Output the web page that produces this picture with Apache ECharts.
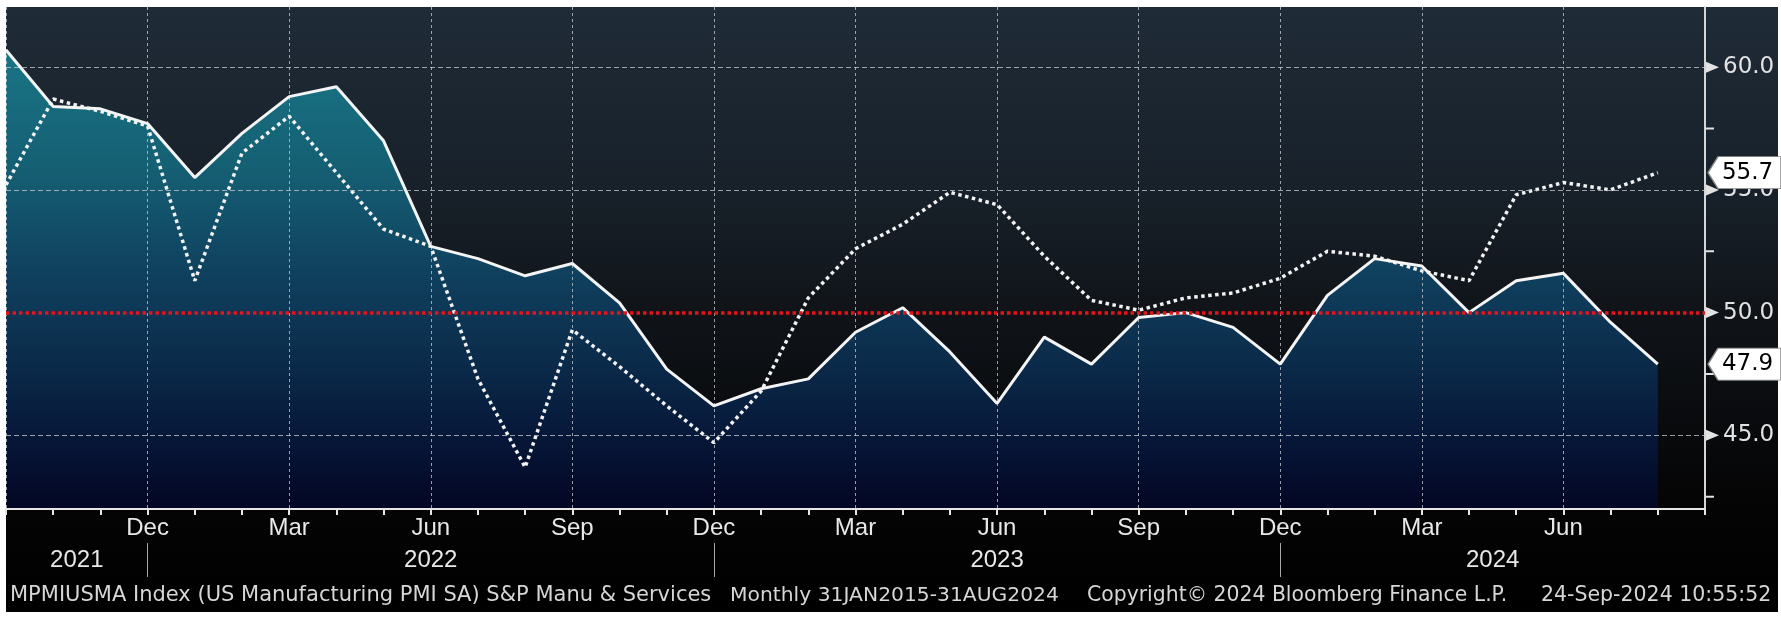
<!DOCTYPE html>
<html>
<head>
<meta charset="utf-8">
<script src="https://cdn.jsdelivr.net/npm/echarts@6.0.0/dist/echarts.min.js"></script>
<style>
  html, body { margin: 0; padding: 0; background: #fff; }
  #main { width: 1781px; height: 622px; }
</style>
</head>
<body>
<div id="main"></div>
<script>
// months Sep 2021 .. Sep 2024 (last one is empty, axis runs one month past the data)
const months = [
  'Sep 2021', 'Oct 2021', 'Nov 2021', 'Dec 2021',
  'Jan 2022', 'Feb 2022', 'Mar 2022', 'Apr 2022', 'May 2022', 'Jun 2022',
  'Jul 2022', 'Aug 2022', 'Sep 2022', 'Oct 2022', 'Nov 2022', 'Dec 2022',
  'Jan 2023', 'Feb 2023', 'Mar 2023', 'Apr 2023', 'May 2023', 'Jun 2023',
  'Jul 2023', 'Aug 2023', 'Sep 2023', 'Oct 2023', 'Nov 2023', 'Dec 2023',
  'Jan 2024', 'Feb 2024', 'Mar 2024', 'Apr 2024', 'May 2024', 'Jun 2024',
  'Jul 2024', 'Aug 2024', 'Sep 2024'
];

// US Manufacturing PMI SA (solid, filled)
const manufacturing = [
  60.7, 58.4, 58.3, 57.7,
  55.5, 57.3, 58.8, 59.2, 57.0, 52.7, 52.2, 51.5, 52.0, 50.4, 47.7, 46.2,
  46.9, 47.3, 49.2, 50.2, 48.4, 46.3, 49.0, 47.9, 49.8, 50.0, 49.4, 47.9,
  50.7, 52.2, 51.9, 50.0, 51.3, 51.6, 49.6, 47.9
];

// S&P Services (dotted)
const services = [
  55.2, 58.7, 58.2, 57.6,
  51.3, 56.5, 58.0, 55.7, 53.4, 52.7, 47.3, 43.7, 49.3, 47.8, 46.2, 44.7,
  46.8, 50.6, 52.6, 53.6, 54.9, 54.4, 52.3, 50.5, 50.1, 50.6, 50.8, 51.4,
  52.5, 52.3, 51.7, 51.3, 54.8, 55.3, 55.0, 55.7
];

const yLabels = [45, 50, 55, 60];
const yMinorTicks = [42.5, 47.5, 52.5, 57.5];
const gridLevels = [45, 55, 60];
const refLevel = 50;

// year labels sit centred between the Dec separators (positions in month index)
const yearLabels = ['2021', '2022', '2023', '2024'];
const yearPos = [1.5, 9, 21, 31.5];
const yearSeparators = [3, 15, 27];

const footer = [
  { x: 10, size: 21, text: 'MPMIUSMA Index (US Manufacturing PMI SA) S&P Manu & Services' },
  { x: 730, size: 20.3, text: 'Monthly 31JAN2015-31AUG2024' },
  { x: 1087, size: 20.4, text: 'Copyright\u00a9 2024 Bloomberg Finance L.P.' },
  { x: 1541, size: 20.5, text: '24-Sep-2024 10:55:52' }
];

const FONT = '"Liberation Sans", Arial, sans-serif';
const NUMFONT = '"DejaVu Sans", sans-serif';
const lastIdx = months.length - 1;

var myChart = echarts.init(document.getElementById('main'));

const badgePath = 'path://M0,16L10,0L73,0L73,32L10,32Z';
const badge = (val) => ({
  coord: [lastIdx, val],
  value: val,
  symbol: badgePath,
  symbolSize: [73, 32],
  symbolOffset: [39.5, 0],
  itemStyle: { color: '#ffffff', borderColor: '#8a8a8a', borderWidth: 1 },
  label: {
    show: true, position: 'inside', color: '#000', offset: [3, 0],
    fontSize: 23, fontFamily: NUMFONT,
    formatter: (p) => Number(p.value).toFixed(1)
  }
});

let option = {
  animation: false,
  backgroundColor: '#ffffff',
  graphic: [
    {
      type: 'rect', z: -10, silent: true,
      shape: { x: 6, y: 7, width: 1772, height: 605 },
      style: {
        fill: new echarts.graphic.LinearGradient(0, 0, 0, 1, [
          { offset: 0, color: '#1f2b37' },
          { offset: 0.3, color: '#18212a' },
          { offset: 0.5, color: '#101419' },
          { offset: 0.8, color: '#050506' },
          { offset: 1, color: '#000000' }
        ])
      }
    }
  ].concat(footer.map(f => ({
    type: 'text', silent: true, x: f.x, y: 596,
    style: { text: f.text, fill: '#d6d6d6', font: f.size + 'px ' + NUMFONT, textVerticalAlign: 'middle' }
  }))),
  grid: { left: 6, top: 7, width: 1699, height: 502, containLabel: false },
  xAxis: [
    {
      type: 'category',
      data: months,
      boundaryGap: false,
      z: 2,
      axisLine: { onZero: false, lineStyle: { color: '#e6e6e6', width: 2 } },
      axisTick: { show: true, inside: false, interval: 0, length: 6, lineStyle: { color: '#e6e6e6', width: 2 } },
      axisLabel: {
        interval: (i) => i % 3 === 0 && i > 0 && i < lastIdx,
        formatter: (v) => v.slice(0, 3),
        color: '#e8e8e8', fontSize: 24, fontFamily: FONT, margin: 7
      },
      splitLine: {
        show: true,
        interval: (i) => i % 3 === 0 && i < lastIdx,
        lineStyle: { color: 'rgba(200,205,210,0.75)', width: 1, type: [3, 3] }
      }
    },
    {
      type: 'value',
      min: 0, max: lastIdx,
      position: 'bottom',
      offset: 34,
      axisLine: { show: false, onZero: false },
      axisTick: {
        show: true, inside: false, customValues: yearSeparators, length: 34,
        lineStyle: { color: '#a8a8a8', width: 1 }
      },
      axisLabel: {
        customValues: yearPos,
        formatter: (v) => yearLabels[yearPos.indexOf(v)] || '',
        color: '#e8e8e8', fontSize: 24, fontFamily: FONT, margin: 5
      },
      splitLine: { show: false }
    }
  ],
  yAxis: {
    type: 'value',
    position: 'right',
    min: 42, max: 62.45,
    z: 2,
    axisLine: { show: true, onZero: false, lineStyle: { color: '#d4d6d8', width: 2 } },
    axisTick: { show: false },
    axisLabel: {
      customValues: yLabels,
      formatter: (v) => v.toFixed(1),
      color: '#e2e2e2', fontSize: 23, fontFamily: NUMFONT, margin: 18
    },
    splitLine: { show: false }
  },
  series: [
    {
      name: 'US Manufacturing PMI SA (area)',
      type: 'line',
      data: manufacturing,
      z: 1,
      symbol: 'none',
      lineStyle: { width: 0 },
      areaStyle: {
        origin: 'start',
        color: new echarts.graphic.LinearGradient(0, 0, 0, 1, [
          { offset: 0, color: '#1796a8' },
          { offset: 0.25, color: '#137a92' },
          { offset: 0.5, color: '#0e5079' },
          { offset: 0.65, color: '#0b3b65' },
          { offset: 0.85, color: '#061c4b' },
          { offset: 1, color: '#030731' }
        ])
      },
      markLine: {
        silent: true,
        symbol: 'none',
        label: { show: false },
        lineStyle: { color: 'rgba(200,205,210,0.75)', width: 1, type: [5, 3] },
        data: gridLevels.map(v => ({ yAxis: v }))
          .concat([{ yAxis: refLevel, lineStyle: { color: '#e3141c', width: 3.5, type: [3.5, 3] } }])
      },
      // right-axis tick marks: triangles at labelled values, short dashes between
      markPoint: {
        silent: true,
        label: { show: false },
        itemStyle: { color: '#e2e2e2' },
        data: yLabels.map(v => ({
          coord: [lastIdx, v],
          symbol: 'path://M0,0L14,6L0,12Z',
          symbolSize: [13, 11],
          symbolOffset: [7.5, 0]
        })).concat(yMinorTicks.map(v => ({
          coord: [lastIdx, v],
          symbol: 'rect',
          symbolSize: [8, 2],
          symbolOffset: [5, 0]
        })))
      }
    },
    {
      name: 'S&P Manu & Services',
      type: 'line',
      data: services,
      z: 3,
      symbol: 'none',
      lineStyle: { color: '#f2f2f2', width: 3.5, type: [3.5, 3.5] },
      markPoint: { silent: true, data: [badge(services[services.length - 1])] }
    },
    {
      name: 'US Manufacturing PMI SA',
      type: 'line',
      data: manufacturing,
      z: 3,
      symbol: 'none',
      lineStyle: { color: '#f4f4f4', width: 3 },
      markPoint: { silent: true, data: [badge(manufacturing[manufacturing.length - 1])] }
    }
  ]
};

myChart.setOption(option);
window.addEventListener('resize', function () {
  myChart.resize();
});
</script>
</body>
</html>
